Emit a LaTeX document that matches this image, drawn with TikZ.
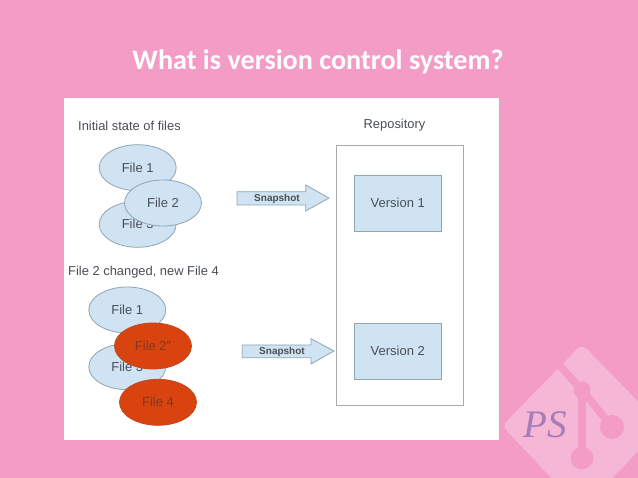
\documentclass[tikz,border=0pt]{standalone}
\usepackage{fontspec}
\setmainfont{Liberation Sans}
\newfontfamily\titlefont{Carlito}
\newfontfamily\logofont{Liberation Serif}
\usetikzlibrary{shapes.geometric}
\definecolor{bgpink}{HTML}{F39DC6}
\definecolor{logopink}{HTML}{F6B6D6}
\definecolor{logotext}{HTML}{A67DB8}
\definecolor{lightblue}{HTML}{CFE3F3}
\definecolor{blueedge}{HTML}{8FA5B3}
\definecolor{redfill}{HTML}{D8430F}
\definecolor{rededge}{HTML}{C0491F}
\definecolor{inktext}{HTML}{4A4F55}
\definecolor{redtext}{HTML}{7E3A1E}
\definecolor{repoedge}{HTML}{A9A9A9}
\tikzset{
  x=1pt,y=-1pt,
  filenode/.style={ellipse,draw=blueedge,fill=lightblue,line width=0.8pt,minimum width=77pt,minimum height=46pt,inner sep=0pt,text=inktext,font=\fontsize{13}{15}\selectfont},
  changednode/.style={filenode,draw=rededge,fill=redfill,text=redtext},
  versionnode/.style={rectangle,draw=blueedge,fill=lightblue,line width=0.8pt,minimum width=87pt,minimum height=56pt,inner sep=0pt,text=inktext,font=\fontsize{13}{15}\selectfont},
  headnode/.style={inner sep=0pt,text=inktext,font=\fontsize{12.9}{15}\selectfont},
  snaplabel/.style={inner sep=0pt,text=inktext,font=\bfseries\fontsize{10}{12}\selectfont},
  snaparrow/.style={draw=blueedge,fill=lightblue,line width=0.8pt,line join=miter},
  branch/.style={draw=bgpink,line width=7.5pt,line cap=round},
  knob/.style={circle,fill=bgpink,inner sep=0pt}
}
\begin{document}
\begin{tikzpicture}
\useasboundingbox (0,0) rectangle (638,478);
\fill[bgpink] (0,0) rectangle (638,478);
% logo
\begin{scope}
\clip (0,0) rectangle (638,478);
\fill[logopink,rounded corners=7pt] (582,344) -- (502,426) -- (582,510) -- (662,426) -- cycle;
\coordinate (bstart) at (560,366);
\node[knob,minimum size=17pt] (bjoint) at (582,390) {};
\node[knob,minimum size=24pt] (bright) at (612,427) {};
\node[knob,minimum size=23pt] (bbottom) at (582,458) {};
\draw[branch] (bstart) -- (bjoint.center);
\draw[branch] (bjoint.center) -- (bright.center);
\draw[branch] (bjoint.center) -- (bbottom.center);
\node[inner sep=0pt,text=logotext,font=\logofont\itshape\fontsize{39}{42}\selectfont] (logotxt) at (545,425) {PS};
\end{scope}
% title
\node[inner sep=0pt,text=white,font=\titlefont\bfseries\fontsize{28.2}{30}\selectfont] (title) at (318,61.5) {What is version control system?};
% panel
\fill[white] (64,98) rectangle (499,440);
\node[headnode,anchor=west] (initial) at (78,125.5) {Initial state of files};
\node[headnode] (repolabel) at (394.5,125.5) {Repository};
\node[headnode,anchor=west] (changed) at (68,272.5) {File 2 changed, new File 4};
% first group
\node[filenode] (f1a) at (137.7,167.7) {File 1};
\node[filenode] (f3a) at (137.7,224.3) {File 3};
\node[filenode] (f2a) at (163,203) {File 2};
% second group
\node[filenode] (f1b) at (127.3,310) {File 1};
\node[filenode] (f3b) at (127.3,366.7) {File 3};
\node[changednode] (f2b) at (153,346) {File 2''};
\node[changednode] (f4b) at (158,402.3) {File 4};
% repository
\node[rectangle,draw=repoedge,line width=0.8pt,minimum width=127pt,minimum height=260pt,inner sep=0pt] (repo) at (399.5,275.3) {};
\node[versionnode] (v1) at (397.8,203.3) {Version 1};
\node[versionnode] (v2) at (397.8,351.3) {Version 2};
% snapshot arrows
\draw[snaparrow] (237,191.7) -- (305.7,191.7) -- (305.7,185) -- (329,198) -- (305.7,211) -- (305.7,205) -- (237,205) -- cycle;
\node[snaplabel] (s1) at (277,198.5) {Snapshot};
\draw[snaparrow] (242.3,345) -- (311,345) -- (311,338.7) -- (334,351) -- (311,364) -- (311,357.7) -- (242.3,357.7) -- cycle;
\node[snaplabel] (s2) at (282,351.5) {Snapshot};
\end{tikzpicture}
\end{document}
